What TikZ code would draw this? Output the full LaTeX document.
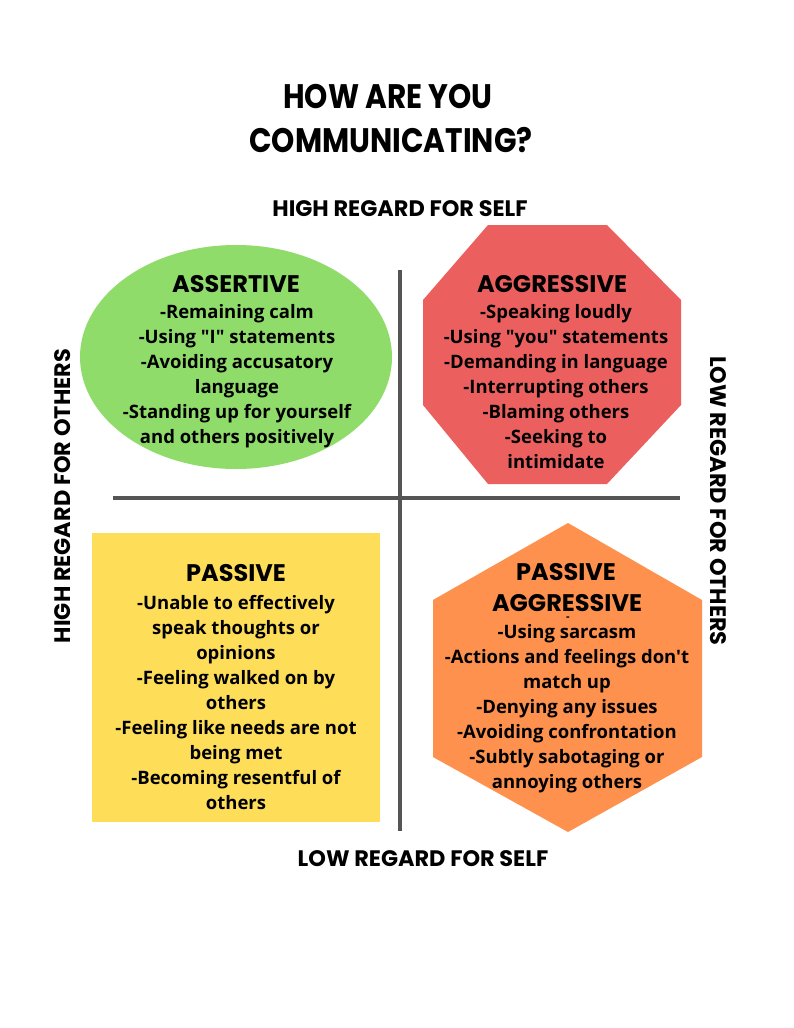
\documentclass[tikz,border=0pt]{standalone}
\usepackage{fontspec}
\setmainfont{Open Sans}[Ligatures=TeXOff]
\newfontfamily\headfont{Poppins}
\usetikzlibrary{shapes.geometric}
\definecolor{cgreen}{HTML}{8FDC6A}
\definecolor{cred}{HTML}{EC5F5F}
\definecolor{corange}{HTML}{FE914D}
\definecolor{cyellow}{HTML}{FEDE59}
\definecolor{caxis}{HTML}{555555}
\tikzset{
  title/.style={font=\headfont\bfseries\fontsize{34}{43}\selectfont, align=center, text=black, xscale=0.87, transform shape},
  axislabel/.style={font=\headfont\bfseries\fontsize{22.4}{25}\selectfont, text=black},
  quadtitle/.style={font=\headfont\bfseries\fontsize{24}{32}\selectfont, text=black, inner sep=0pt},
  body/.style={font=\bfseries\fontsize{18.5}{25}\selectfont, align=center, text=black, inner sep=0pt},
  axisline/.style={draw=caxis, line width=4pt},
}
\begin{document}
\begin{tikzpicture}[x=1pt,y=-1pt]
\useasboundingbox (0,0) rectangle (794,1028);
\fill[white] (0,0) rectangle (794,1028);
% axes
\coordinate (vtop) at (400,270);
\coordinate (vbot) at (400,831);
\coordinate (hl) at (113,498);
\coordinate (hr) at (680,498);
\draw[axisline] (vtop) -- (vbot);
\draw[axisline] (hl) -- (hr);
% shapes
\node[ellipse, fill=cgreen, minimum width=312pt, minimum height=224pt, inner sep=0pt] (ell) at (236,357) {};
\fill[cred] (488,225) -- (607,225) -- (681,300) -- (681,405) -- (607,484) -- (488,484) -- (423,405) -- (423,300) -- cycle;
\fill[cyellow] (92,533) rectangle (380,822);
\fill[corange] (568,523) -- (702,600) -- (702,757) -- (568,832) -- (433,757) -- (433,600) -- cycle;
% title
\node[title] (t1) at (388,97) {HOW ARE YOU};
\node[title] (t2) at (391,140) {COMMUNICATING?};
\node[axislabel] (hs) at (400,209) {HIGH REGARD FOR SELF};
\node[axislabel] (ls) at (423,859) {LOW REGARD FOR SELF};
\node[axislabel, rotate=90] (ho) at (63,496) {HIGH REGARD FOR OTHERS};
\node[axislabel, rotate=-90] (lo) at (718,501) {LOW REGARD FOR OTHERS};
% assertive
\node[quadtitle] (asT) at (236,284) {ASSERTIVE};
\node[body, anchor=north] (asB) at (237,304) {-Remaining calm\\-Using "I" statements\\-Avoiding accusatory\\language\\-Standing up for yourself\\and others positively};
% aggressive
\node[quadtitle] (agT) at (552,284) {AGGRESSIVE};
\node[body, anchor=north] (agB) at (556,304) {-Speaking loudly\\-Using "you" statements\\-Demanding in language\\-Interrupting others\\-Blaming others\\-Seeking to\\intimidate};
% passive
\node[quadtitle] (paT) at (236,573) {PASSIVE};
\node[body, anchor=north] (paB) at (236,595) {-Unable to effectively\\speak thoughts or\\opinions\\-Feeling walked on by\\others\\-Feeling like needs are not\\being met\\-Becoming resentful of\\others};
% passive aggressive
\node[quadtitle] (pgT1) at (566,572) {PASSIVE};
\node[quadtitle] (pgT2) at (567,603) {AGGRESSIVE};
\node[font=\bfseries\fontsize{11}{11}\selectfont, inner sep=0pt] (pgD) at (568,619) {-};
\node[body, anchor=north] (pgB) at (567,624) {-Using sarcasm\\-Actions and feelings don't\\match up\\-Denying any issues\\-Avoiding confrontation\\-Subtly sabotaging or\\annoying others};
\end{tikzpicture}
\end{document}
